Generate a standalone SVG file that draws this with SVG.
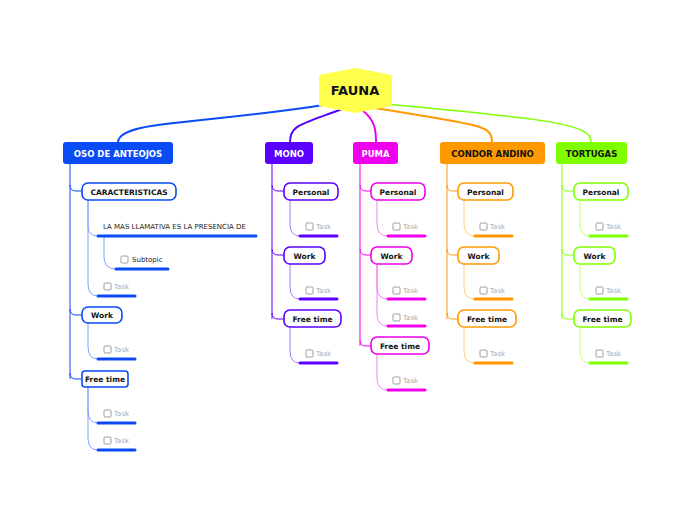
<svg xmlns="http://www.w3.org/2000/svg" width="697" height="520" viewBox="0 0 697 520">
<style>
text{font-family:"DejaVu Sans",Verdana,sans-serif}
.m{font-size:8.5px;font-weight:bold;text-anchor:middle}
.s{font-size:7.5px;font-weight:bold;text-anchor:middle;fill:#111}
.t{font-size:7px;fill:#aaa}
.cb{fill:#fff;stroke:#888;stroke-width:0.8}
.c{fill:none;stroke-width:1}
.u{stroke-width:3;stroke-linecap:round}
.b{fill:#fff;stroke-width:1.6}
</style>
<rect width="697" height="520" fill="#fff"/>
<g id="connectors" fill="none">
<path d="M330,104 C200,125 120,120 118,142" stroke="#0a4bf5" stroke-width="2"/>
<path d="M342,109 C300,125 290,125 290,142" stroke="#5a00ff" stroke-width="2"/>
<path d="M362,110 C375,120 376,130 376,142" stroke="#ee00ee" stroke-width="2"/>
<path d="M375,108 C480,125 492,125 492,142" stroke="#ff9900" stroke-width="2"/>
<path d="M385,104 C560,120 591,125 591,142" stroke="#80ff00" stroke-width="1.5"/>
<!-- OSO -->
<g stroke="#0a4bf5" class="c">
<path d="M70,164 V379"/>
<path d="M70,185 Q70,191 76,191 H82"/>
<path d="M70,309 Q70,315 76,315 H82"/>
<path d="M70,373 Q70,379 76,379 H82"/>
</g>
<g stroke="#7fa0ff" class="c">
<path d="M88,200 V226 Q88,236 98,236"/>
<path d="M88,200 V284 Q88,296 98,296"/>
<path d="M104,236 V257 Q104,269 116,269"/>
<path d="M88,323 V347 Q88,359 98,359"/>
<path d="M88,387 V411 Q88,423 98,423"/>
<path d="M88,387 V438 Q88,450 98,450"/>
</g>
<!-- MONO -->
<g stroke="#5a00ff" class="c">
<path d="M272,164 V319"/>
<path d="M272,185 Q272,191 278,191 H284"/>
<path d="M272,249 Q272,255 278,255 H284"/>
<path d="M272,313 Q272,319 278,319 H284"/>
</g>
<g stroke="#a57fff" class="c">
<path d="M290,200 V224 Q290,236 300,236"/>
<path d="M290,264 V287 Q290,299 300,299"/>
<path d="M290,327 V351 Q290,363 300,363"/>
</g>
<!-- PUMA -->
<g stroke="#ee00ee" class="c">
<path d="M360,164 V346"/>
<path d="M360,185 Q360,191 366,191 H371"/>
<path d="M360,249 Q360,255 366,255 H371"/>
<path d="M360,340 Q360,346 366,346 H371"/>
</g>
<g stroke="#f57ff5" class="c">
<path d="M377,200 V224 Q377,236 388,236"/>
<path d="M377,264 V287 Q377,299 388,299"/>
<path d="M377,264 V314 Q377,326 388,326"/>
<path d="M377,354 V378 Q377,390 388,390"/>
</g>
<!-- CONDOR -->
<g stroke="#ff9900" class="c">
<path d="M447,164 V319"/>
<path d="M447,185 Q447,191 453,191 H458"/>
<path d="M447,249 Q447,255 453,255 H458"/>
<path d="M447,313 Q447,319 453,319 H458"/>
</g>
<g stroke="#ffcc80" class="c">
<path d="M464,200 V224 Q464,236 475,236"/>
<path d="M464,264 V287 Q464,299 475,299"/>
<path d="M464,327 V351 Q464,363 475,363"/>
</g>
<!-- TORTUGAS -->
<g stroke="#80ff00" class="c">
<path d="M562,164 V319"/>
<path d="M562,185 Q562,191 568,191 H574"/>
<path d="M562,249 Q562,255 568,255 H574"/>
<path d="M562,313 Q562,319 568,319 H574"/>
</g>
<g stroke="#bfff80" class="c">
<path d="M580,200 V224 Q580,236 590,236"/>
<path d="M580,264 V287 Q580,299 590,299"/>
<path d="M580,327 V351 Q580,363 590,363"/>
</g>
</g>
<g id="root">
<polygon points="319,75 355,68 392,75 392,106 355,113 319,106" fill="#ffff4d"/>
<text x="355" y="95" font-size="13" font-weight="bold" text-anchor="middle" fill="#111">FAUNA</text>
</g>
<g id="oso">
<rect x="63" y="142" width="110" height="22" rx="3" fill="#0a4bf5"/>
<text class="m" x="118" y="156.5" fill="#fff">OSO DE ANTEOJOS</text>
<rect class="b" x="82" y="183" width="94" height="17" rx="6" stroke="#0a4bf5"/>
<text class="s" x="129" y="194.5">CARACTERISTICAS</text>
<text x="103" y="229" font-size="7px" fill="#222">LA MAS LLAMATIVA ES LA PRESENCIA DE</text>
<line class="u" x1="98" y1="236" x2="256" y2="236" stroke="#0a4bf5"/>
<rect class="cb" x="121" y="256" width="7" height="7" rx="1"/>
<text x="132" y="262" font-size="7px" fill="#222">Subtopic</text>
<line class="u" x1="116" y1="269" x2="168" y2="269" stroke="#0a4bf5"/>
<rect class="cb" x="104" y="283" width="7" height="7" rx="1"/><text class="t" x="114" y="289">Task</text>
<line class="u" x1="98" y1="296" x2="135" y2="296" stroke="#0a4bf5"/>
<rect class="b" x="82" y="307" width="40" height="16" rx="6" stroke="#0a4bf5"/>
<text class="s" x="102" y="318">Work</text>
<rect class="cb" x="104" y="346" width="7" height="7" rx="1"/><text class="t" x="114" y="352">Task</text>
<line class="u" x1="98" y1="359" x2="135" y2="359" stroke="#0a4bf5"/>
<rect class="b" x="82" y="371" width="46" height="16" rx="3" stroke="#0a4bf5"/>
<text class="s" x="105" y="382">Free time</text>
<rect class="cb" x="104" y="410" width="7" height="7" rx="1"/><text class="t" x="114" y="416">Task</text>
<line class="u" x1="98" y1="423" x2="135" y2="423" stroke="#0a4bf5"/>
<rect class="cb" x="104" y="437" width="7" height="7" rx="1"/><text class="t" x="114" y="443">Task</text>
<line class="u" x1="98" y1="450" x2="135" y2="450" stroke="#0a4bf5"/>
</g>
<g id="mono">
<rect x="265" y="142" width="48" height="22" rx="3" fill="#5a00ff"/>
<text class="m" x="289" y="156.5" fill="#fff">MONO</text>
<rect class="b" x="284" y="183" width="54" height="17" rx="6" stroke="#5a00ff"/>
<text class="s" x="311" y="194.5">Personal</text>
<rect class="cb" x="306" y="223" width="7" height="7" rx="1"/><text class="t" x="316" y="229">Task</text>
<line class="u" x1="300" y1="236" x2="337" y2="236" stroke="#5a00ff"/>
<rect class="b" x="284" y="247" width="41" height="17" rx="6" stroke="#5a00ff"/>
<text class="s" x="304.5" y="258.5">Work</text>
<rect class="cb" x="306" y="287" width="7" height="7" rx="1"/><text class="t" x="316" y="293">Task</text>
<line class="u" x1="300" y1="299" x2="337" y2="299" stroke="#5a00ff"/>
<rect class="b" x="284" y="310" width="57" height="17" rx="6" stroke="#5a00ff"/>
<text class="s" x="312.5" y="321.5">Free time</text>
<rect class="cb" x="306" y="350" width="7" height="7" rx="1"/><text class="t" x="316" y="356">Task</text>
<line class="u" x1="300" y1="363" x2="337" y2="363" stroke="#5a00ff"/>
</g>
<g id="puma">
<rect x="353" y="142" width="45" height="22" rx="3" fill="#ee00ee"/>
<text class="m" x="375.5" y="156.5" fill="#fff">PUMA</text>
<rect class="b" x="371" y="183" width="54" height="17" rx="6" stroke="#ee00ee"/>
<text class="s" x="398" y="194.5">Personal</text>
<rect class="cb" x="393" y="223" width="7" height="7" rx="1"/><text class="t" x="403" y="229">Task</text>
<line class="u" x1="388" y1="236" x2="425" y2="236" stroke="#ee00ee"/>
<rect class="b" x="371" y="247" width="41" height="17" rx="6" stroke="#ee00ee"/>
<text class="s" x="391.5" y="258.5">Work</text>
<rect class="cb" x="393" y="287" width="7" height="7" rx="1"/><text class="t" x="403" y="293">Task</text>
<line class="u" x1="388" y1="299" x2="425" y2="299" stroke="#ee00ee"/>
<rect class="cb" x="393" y="314" width="7" height="7" rx="1"/><text class="t" x="403" y="320">Task</text>
<line class="u" x1="388" y1="326" x2="425" y2="326" stroke="#ee00ee"/>
<rect class="b" x="371" y="337" width="58" height="17" rx="6" stroke="#ee00ee"/>
<text class="s" x="400" y="348.5">Free time</text>
<rect class="cb" x="393" y="377" width="7" height="7" rx="1"/><text class="t" x="403" y="383">Task</text>
<line class="u" x1="388" y1="390" x2="425" y2="390" stroke="#ee00ee"/>
</g>
<g id="condor">
<rect x="440" y="142" width="105" height="22" rx="3" fill="#ff9900"/>
<text class="m" x="492.5" y="156.5" fill="#111">CONDOR ANDINO</text>
<rect class="b" x="458" y="183" width="55" height="17" rx="6" stroke="#ff9900"/>
<text class="s" x="485.5" y="194.5">Personal</text>
<rect class="cb" x="480" y="223" width="7" height="7" rx="1"/><text class="t" x="490" y="229">Task</text>
<line class="u" x1="475" y1="236" x2="512" y2="236" stroke="#ff9900"/>
<rect class="b" x="458" y="247" width="41" height="17" rx="6" stroke="#ff9900"/>
<text class="s" x="478.5" y="258.5">Work</text>
<rect class="cb" x="480" y="287" width="7" height="7" rx="1"/><text class="t" x="490" y="293">Task</text>
<line class="u" x1="475" y1="299" x2="512" y2="299" stroke="#ff9900"/>
<rect class="b" x="458" y="310" width="58" height="17" rx="6" stroke="#ff9900"/>
<text class="s" x="487" y="321.5">Free time</text>
<rect class="cb" x="480" y="350" width="7" height="7" rx="1"/><text class="t" x="490" y="356">Task</text>
<line class="u" x1="475" y1="363" x2="512" y2="363" stroke="#ff9900"/>
</g>
<g id="tortugas">
<rect x="556" y="142" width="71" height="22" rx="3" fill="#80ff00"/>
<text class="m" x="591.5" y="156.5" fill="#111">TORTUGAS</text>
<rect class="b" x="574" y="183" width="54" height="17" rx="6" stroke="#80ff00"/>
<text class="s" x="601" y="194.5">Personal</text>
<rect class="cb" x="596" y="223" width="7" height="7" rx="1"/><text class="t" x="606" y="229">Task</text>
<line class="u" x1="590" y1="236" x2="627" y2="236" stroke="#80ff00"/>
<rect class="b" x="574" y="247" width="41" height="17" rx="6" stroke="#80ff00"/>
<text class="s" x="594.5" y="258.5">Work</text>
<rect class="cb" x="596" y="287" width="7" height="7" rx="1"/><text class="t" x="606" y="293">Task</text>
<line class="u" x1="590" y1="299" x2="627" y2="299" stroke="#80ff00"/>
<rect class="b" x="574" y="310" width="57" height="17" rx="6" stroke="#80ff00"/>
<text class="s" x="602.5" y="321.5">Free time</text>
<rect class="cb" x="596" y="350" width="7" height="7" rx="1"/><text class="t" x="606" y="356">Task</text>
<line class="u" x1="590" y1="363" x2="627" y2="363" stroke="#80ff00"/>
</g>
</svg>
